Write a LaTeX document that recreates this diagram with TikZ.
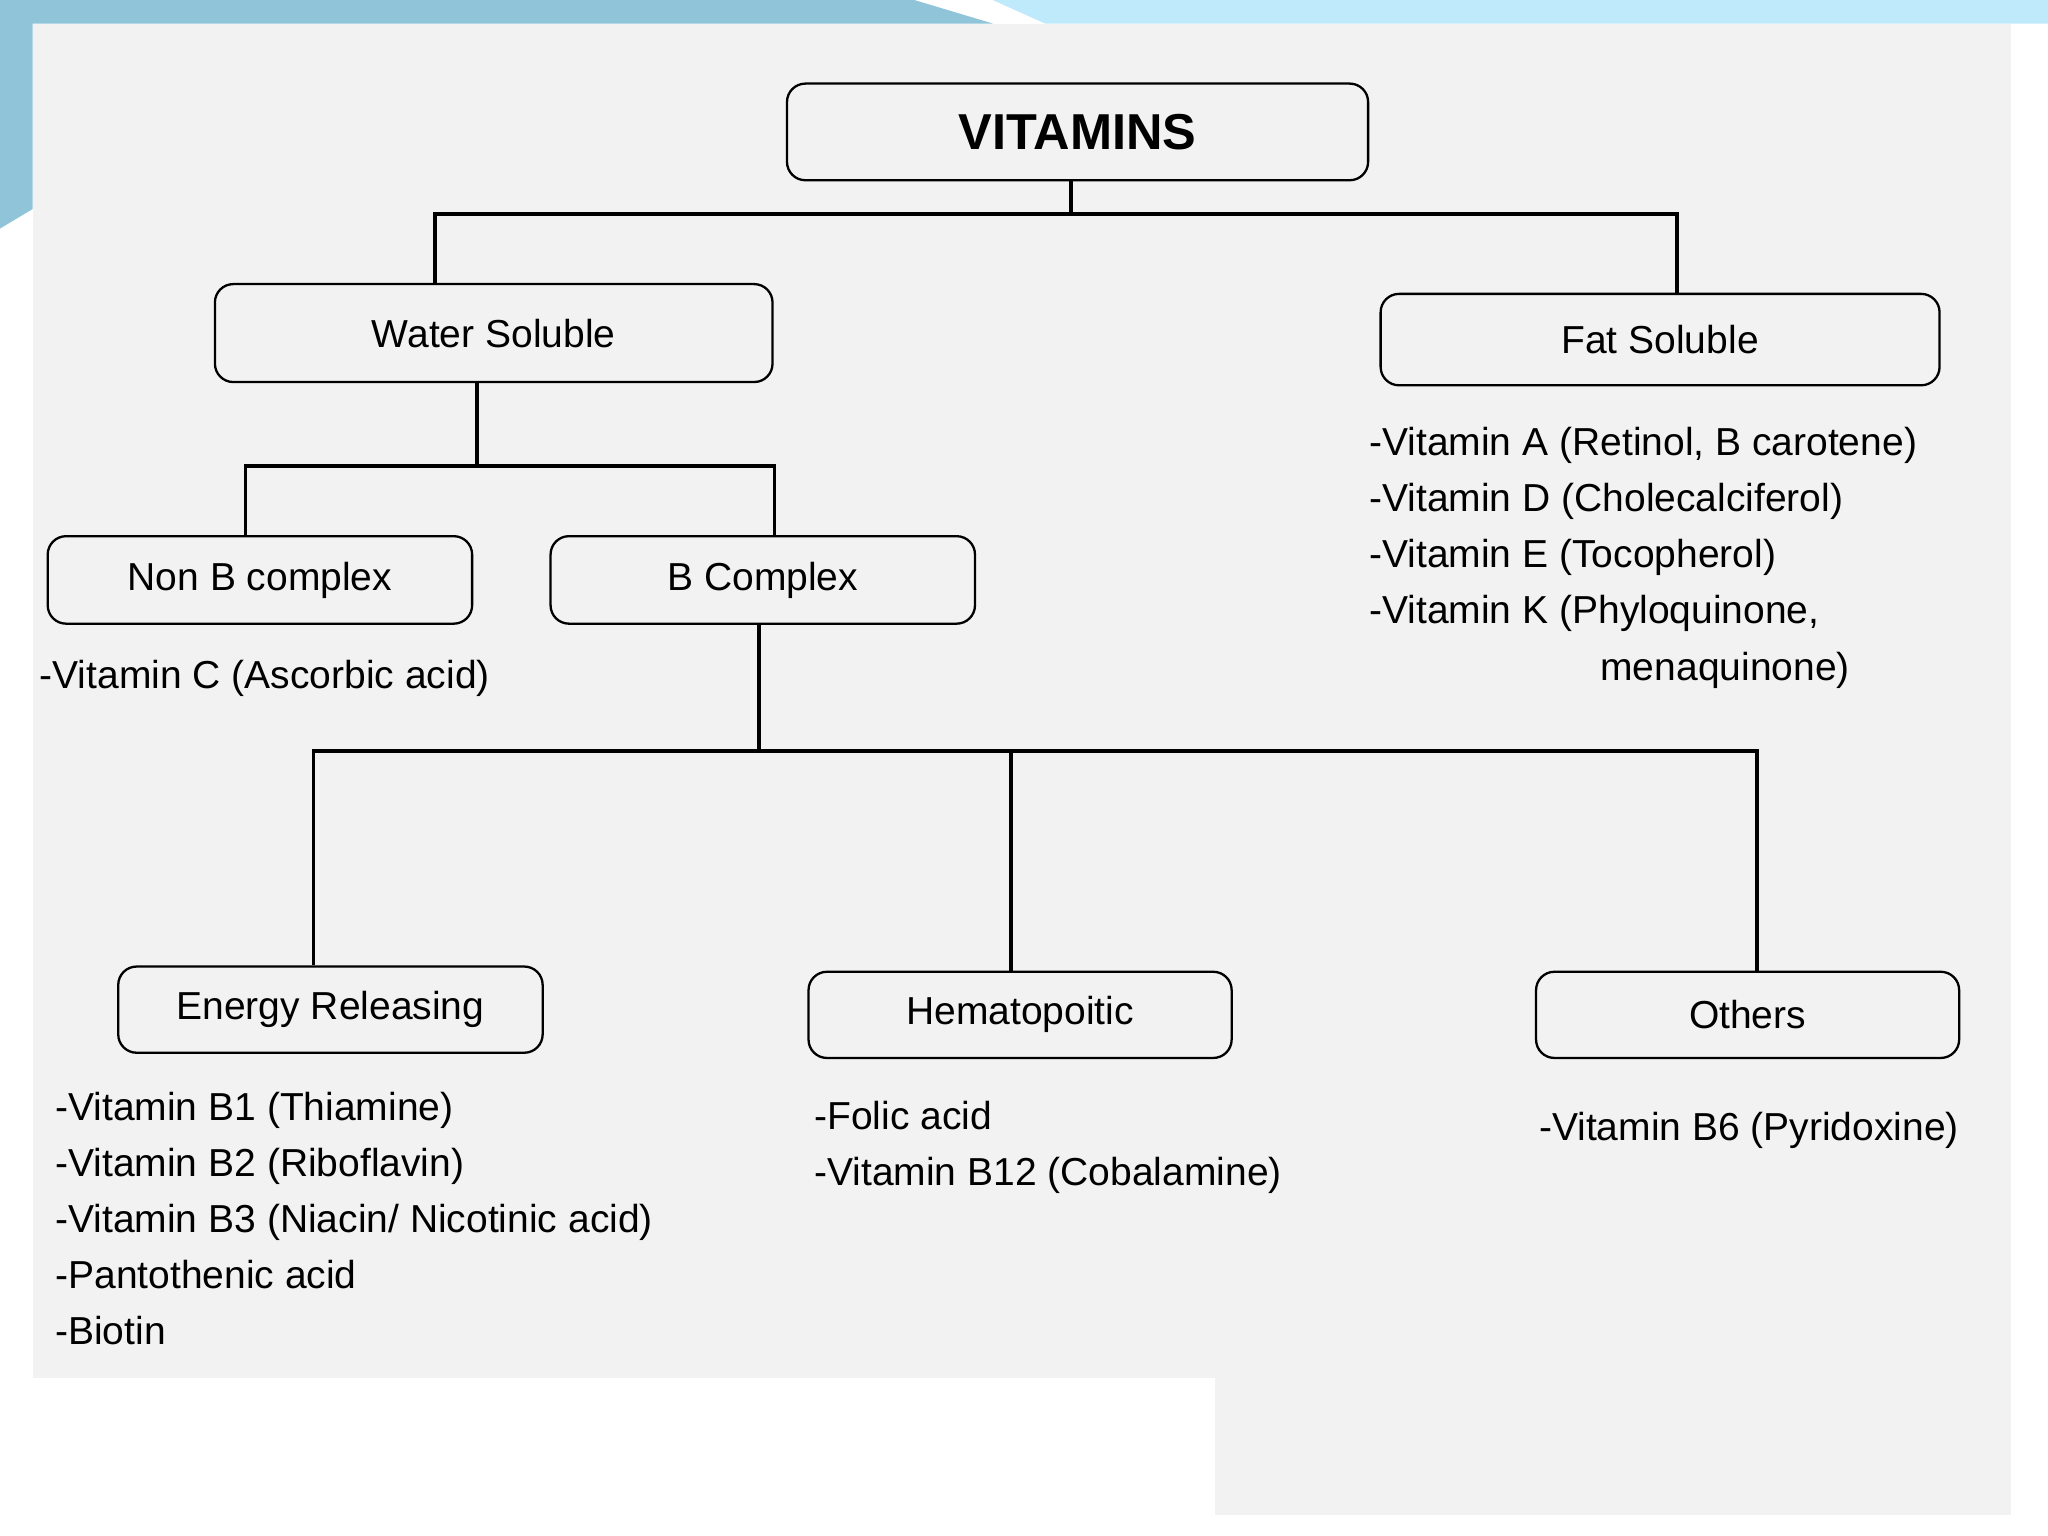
\documentclass[tikz,border=0pt]{standalone}
\usepackage{fontspec}
\setmainfont{Liberation Sans}
\begin{document}
\begin{tikzpicture}[x=0.02cm,y=-0.02cm,
  box/.style={draw=black,line width=1pt,rounded corners=8pt,inner sep=0pt},
  lbl/.style={font=\fontsize{17}{24.4}\selectfont},
  lst/.style={anchor=north west,align=left,inner sep=0pt,font=\fontsize{17}{24.4}\selectfont},
  con/.style={line width=1.6pt}]
\useasboundingbox (0,0) rectangle (1568,1176);
\fill[white] (0,0) rectangle (1568,1176);
\fill[cyan!40!teal!50] (0,0) -- (700,0) -- (760,18) -- (25,18) -- (25,160) -- (0,175) -- cycle;
\fill[cyan!25] (760,0) -- (1568,0) -- (1568,18) -- (800,18) -- cycle;
\fill[gray!10] (25,18) rectangle (1540,1160);
\fill[white] (0,1055) rectangle (930,1176);
\node[box,minimum width=445\pgflinewidth*0+8.9cm,minimum height=1.48cm,font=\fontsize{22}{26}\selectfont\bfseries] (vit) at (825,101) {VITAMINS};
\node[box,lbl,minimum width=8.54cm,minimum height=1.5cm] (ws) at (378,255) {Water Soluble};
\node[box,lbl,minimum width=8.56cm,minimum height=1.4cm] (fs) at (1271,260) {Fat Soluble};
\node[box,lbl,minimum width=6.5cm,minimum height=1.34cm] (nb) at (199,444) {Non B complex};
\node[box,lbl,minimum width=6.5cm,minimum height=1.34cm] (bc) at (584,444) {B Complex};
\node[box,lbl,minimum width=6.5cm,minimum height=1.32cm] (er) at (253,773) {Energy Releasing};
\node[box,lbl,minimum width=6.48cm,minimum height=1.32cm] (he) at (781,777) {Hematopoitic};
\node[box,lbl,minimum width=6.48cm,minimum height=1.32cm] (ot) at (1338,777) {Others};
\coordinate (j1) at (820,164);
\draw[con] (vit.south -| j1) -- (j1);
\draw[con] (j1) -- (333,164) -- (ws.north -| 333,0);
\draw[con] (j1) -- (1284,164) -- (fs.north -| 1284,0);
\coordinate (j2) at (365,357);
\draw[con] (ws.south -| j2) -- (j2) -- (188,357) -- (nb.north -| 188,0);
\draw[con] (j2) -- (593,357) -- (bc.north -| 593,0);
\coordinate (j3) at (581,575);
\draw[con] (bc.south -| j3) -- (j3) -- (240,575) -- (er.north -| 240,0);
\draw[con] (j3) -- (1345,575) -- (ot.north -| 1345,0);
\draw[con] (774,575) -- (he.north -| 774,0);
\node[lst] (vc) at (30,505) {-Vitamin C (Ascorbic acid)};
\node[lst] (fl) at (1048,327) {-Vitamin A (Retinol, B carotene)\\-Vitamin D (Cholecalciferol)\\-Vitamin E (Tocopherol)\\-Vitamin K (Phyloquinone,};
\node[lst] (fl2) at (1225,499) {menaquinone)};
\node[lst] (el) at (42,836) {-Vitamin B1 (Thiamine)\\-Vitamin B2 (Riboflavin)\\-Vitamin B3 (Niacin/ Nicotinic acid)\\-Pantothenic acid\\-Biotin};
\node[lst] (hl) at (623,843) {-Folic acid\\-Vitamin B12 (Cobalamine)};
\node[lst] (ol) at (1178,851) {-Vitamin B6 (Pyridoxine)};
\end{tikzpicture}
\end{document}
